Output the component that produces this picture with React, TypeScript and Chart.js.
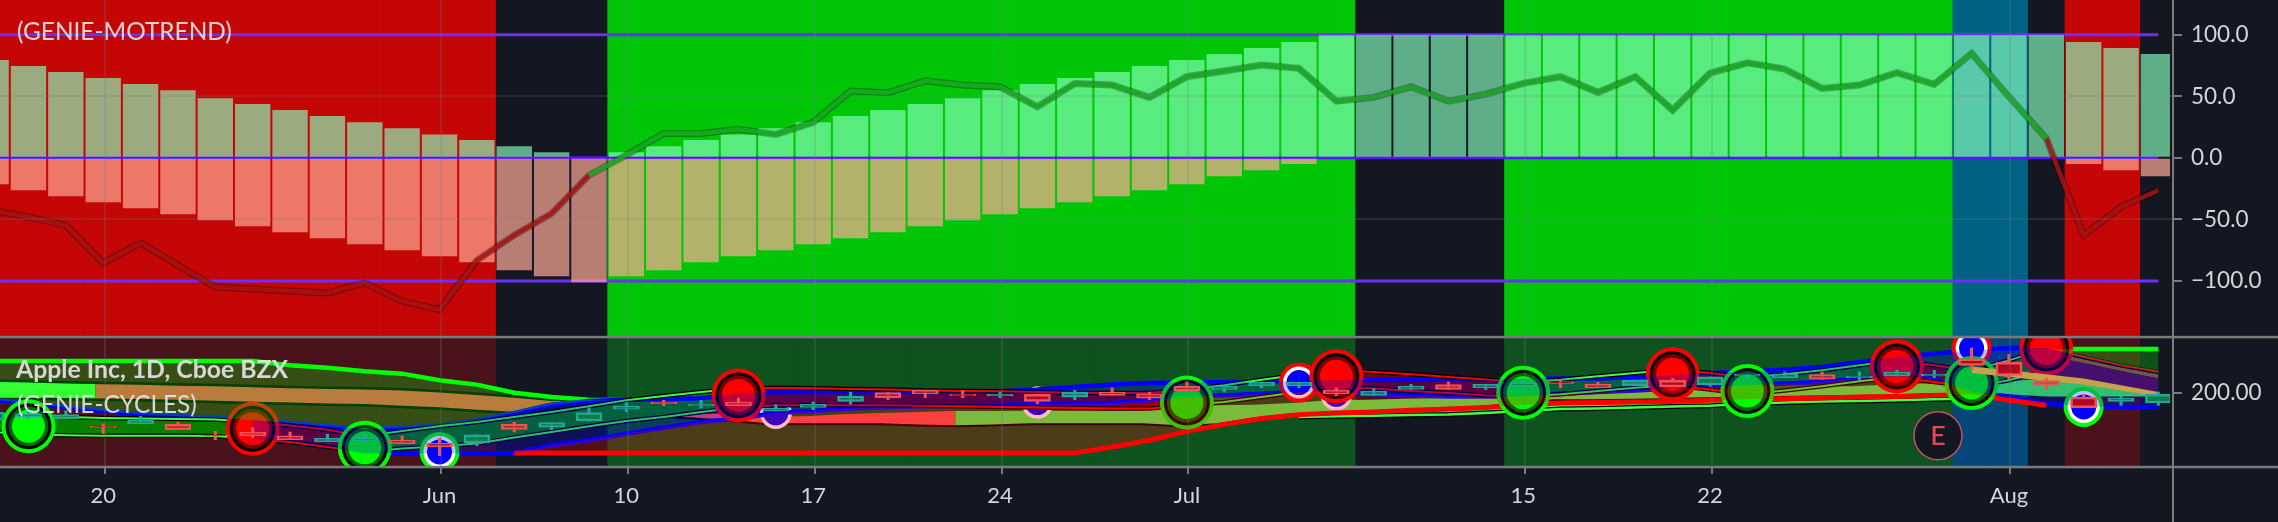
import React, { useEffect, useRef } from "react";
import { Chart, registerables } from "chart.js";

Chart.register(...registerables);

const FONT = "Lato, 'Open Sans', sans-serif";
const N = null;

// ---- session index 0 = 15 May ... 58 = 7 Aug
const tickIndex = [3, 12, 17, 22, 27, 32, 41, 46, 54];
const tickLabels = ["20", "Jun", "10", "17", "24", "Jul", "15", "22", "Aug"];

// R red, K none, G green, B blue
const bandState = [
  "R","R","R","R","R","R","R","R","R","R",
  "R","R","R","R","K","K","K","G","G","G",
  "G","G","G","G","G","G","G","G","G","G",
  "G","G","G","G","G","G","G","K","K","K",
  "K","G","G","G","G","G","G","G","G","G",
  "G","G","G","B","B","K","R","R","K",
];

// ---- top pane
const upperBars = [
  79.4,74.6,69.7,64.8,59.9,55,48.5,43.7,38.8,33.9,
  29,24,19,14.4,9.5,4.6,0,4.6,9.5,14.4,
  19,24,29,33.9,38.8,43.7,48.5,55,59.9,64.8,
  69.7,74.6,79.4,84.3,89.2,94,99.6,99.6,99.6,99.6,
  99.6,99.6,99.6,99.6,99.6,99.6,99.6,99.6,99.6,99.6,
  99.6,99.6,99.6,99.6,99.6,99.6,94,89.2,84.3,
];
const lowerBars = [
  -21.4,-26.3,-31.1,-36,-40.9,-45.8,-50.7,-55.5,-60.4,-65.3,
  -70.2,-75,-79.9,-84.8,-91.3,-96.2,-101,-96.2,-91.3,-84.8,
  -79.9,-75,-70.2,-65.3,-60.4,-55.5,-50.7,-45.8,-40.9,-36,
  -31.1,-26.3,-21.4,-14.9,-10,-5,0,0,0,0,
  0,0,0,0,0,0,0,0,0,0,
  0,0,0,0,0,0,-5,-10,-14.9,
];
const momentum = [
  -42.5,-48,-54.7,-85.3,-69.1,-87.2,-104.9,-106.5,-108.1,-109.8,
  -101.6,-116.5,-123.3,-83.2,-62.8,-45.2,-14.1,2.2,19.8,19.8,
  23.3,19,28.8,54.2,52.8,62.6,59.1,57.7,41.5,60.3,
  59.1,49.1,65.9,70.5,75.4,72.7,46.1,49.1,57.7,46.1,
  51.8,60.5,65.9,53.2,65.9,38.8,68.8,77.2,72.1,56.4,
  59.1,69.1,59.7,84.9,49.6,15.8,-62.8,-39.8,-26.3,
];
const levelHigh = upperBars.map(() => 100);
const levelZero = upperBars.map(() => 0);
const levelLow = upperBars.map(() => -100);

// ---- bottom pane: price candles
const open = [
  186.7,188.3,187.5,183.8,185.0,184.7,179.7,181.0,179.1,176.3,
  177.0,177.0,175.7,175.7,184.7,183.4,186.3,192.0,195.3,193.7,
  195.5,191.2,192.9,195.8,200.0,201.1,199.2,198.6,199.2,197.8,
  200.3,199.5,203.1,201.6,203.4,203.4,201.1,198.7,201.6,203.9,
  202.4,203.2,205.2,204.0,203.4,206.0,203.7,208.4,207.3,208.7,
  207.3,208.1,208.1,216.4,214.7,205.8,197.9,195.8,195.0,
];
const close = [
  190.7,189.6,189.4,183.3,186.7,182.1,179.2,179.1,177.3,178.0,
  178.0,175.4,173.8,179.7,182.3,185.5,190.4,193.4,194.7,194.2,
  193.7,192.6,194.4,198.2,197.6,199.5,198.7,199.2,195.8,200.2,
  198.7,197.4,200.8,203.1,205.0,205.0,199.5,200.8,203.1,201.6,
  204.0,204.8,204.5,202.4,206.0,202.8,207.6,208.9,208.9,206.5,
  207.9,210.0,208.9,213.2,208.4,203.6,192.8,197.4,199.2,
];
const high = [
  192.3,190.7,191.2,185.0,188.6,185.8,181.3,183.1,181.0,179.9,
  180.2,179.1,178.0,179.7,185.8,185.5,192.6,195.2,196.3,196.3,
  197.4,194.2,195.5,200.3,200.0,201.1,201.1,200.3,199.2,201.1,
  202.3,200.3,205.2,203.1,205.0,205.0,202.3,201.9,204.0,205.2,
  204.0,206.0,206.0,205.0,206.0,206.9,207.6,208.9,210.0,210.0,
  210.0,210.8,210.8,221.6,218.5,206.9,199.2,198.2,200.3,
];
const low = [
  186.3,187.5,187.5,180.2,185.0,182.1,177.3,178.3,177.3,176.3,
  176.3,175.4,169.6,174.4,181.0,182.1,186.3,190.8,193.7,192.6,
  193.7,191.2,191.8,194.5,196.6,197.6,197.6,197.6,194.7,196.6,
  198.7,196.6,200.8,200.3,202.4,202.4,198.6,198.7,201.6,201.6,
  201.5,203.2,202.4,202.4,203.4,202.8,203.1,206.3,207.3,206.5,
  206.0,208.1,207.3,211.1,206.3,201.5,192.8,193.9,193.9,
];

// ---- bottom pane: overlay lines
const limeTop = [
  215.3,215.3,215.3,215.3,215.3,215.3,215.3,215.3,213.2,212.1,
  210.3,209.2,206,203.9,200,197.9,196.6,196.5,N,N,
  N,N,N,N,N,N,N,N,N,N,
  N,N,N,N,N,N,N,N,N,N,
  N,N,N,N,N,N,N,N,N,N,
  N,N,N,N,N,221.1,221.1,221.1,221.1,
];
const ribbonUpper = [
  205.8,205.5,205,204.7,204.4,204,203.7,203.2,202.8,202.4,
  202.1,201.6,200.7,199.5,198.2,196.6,196.3,
];
const ribbonLower = [
  197,197,196.8,196.6,196.3,196,195.5,195,194.7,194.2,
  193.9,193.1,192.4,191.2,190.2,194.7,196.3,
];
const ribbonLimeLength = 4;
const blueUpper = [
  196.6,195,192.8,191.2,189.6,188.6,187.9,186.7,185.4,183.8,
  182.5,183.1,184.2,186.7,190.2,194.1,196,196.6,197,197.3,
  199.5,200.3,200.3,200.3,200.3,200.3,200.3,200.7,201.5,202.8,
  203.9,204.7,205,205,205.3,205.6,206.3,206.3,206.3,206.3,
  206.3,206.8,206.8,206.9,207.6,208.4,209.5,210.2,211.1,212.4,
  214.8,217.2,218.8,220.5,221.6,221.6,217.2,213.2,210,
];
const blueUpperLast = 55;
const blueLower = [
  N,N,N,N,N,N,N,177.8,176.2,173.8,
  170.6,170.6,170.6,170.6,170.9,174.6,177,180.2,183.1,185.8,
  187.5,190.2,191.2,192.3,193.1,193.4,193.7,194.1,194.4,194.7,
  195,196.3,197.9,198.7,199.5,200.3,200.3,199.2,198.6,198.2,
  198.2,198.2,199.5,200.3,201.1,202,202.8,203.6,204.4,205.2,
  206.8,207.6,206.8,200.3,198.2,194.7,193.4,193.1,193.1,
];
const channelUpper = [
  190.2,189,188.3,187.8,187.5,187.3,187,185.8,184.2,182.1,
  178.9,181.5,183.8,185.8,188.3,190.7,193.4,196.3,198.4,200.3,
  201.9,202.4,202.1,201.8,201.5,201.1,200.8,200.7,200.3,200,
  199.9,199.9,201.5,203.6,206.3,208.7,210.8,210,208.9,207.6,
  206.4,205.2,206.3,207.9,209.5,211.1,209.5,207.3,208.9,210.8,
  213.2,215.6,213.2,210.8,215.6,221.3,217.2,213.2,210,
];
const channelLower = [
  181,179.9,179.4,179.2,179.2,179.2,179.1,177.8,176.2,173.8,
  171.4,173,174.1,175.4,178.3,181,183.8,186.3,188.3,190.7,
  192.8,193.9,193.9,193.9,193.9,193.7,193.4,193.1,192.9,192.6,
  192.3,192.3,193.9,195.5,197.9,200.3,202.8,202,200.8,199.9,
  198.7,198.2,199.2,200.8,202.4,203.6,201.5,199.2,201.1,203.1,
  205.5,207.6,205.2,202.8,206,210.8,N,N,N,
];
// T teal, M maroon: state of the span that starts at this session
const channelState = [
  "T","T","T","T","T","T","T","M","M","M",
  "T","T","T","T","T","T","T","T","T","T",
  "M","M","M","M","M","M","M","M","M","M",
  "M","M","T","T","T","T","M","M","M","M",
  "M","T","T","T","T","M","M","T","T","T",
  "T","M","M","T","T","M","M","M","M",
];
const redFloor = [
  N,N,N,N,N,N,N,N,N,N,
  N,N,N,N,170.9,170.9,170.9,170.9,170.9,170.9,
  170.9,170.9,170.9,170.9,170.9,170.9,170.9,170.9,170.9,170.9,
  173.8,177,181.3,184.7,187.5,189.4,190.2,190.7,191.5,192.1,
  192.8,194.2,195,195.3,195.5,195.8,196.3,196.8,197.1,197.4,
  197.9,198.2,198.7,199.2,196.3,193.9,N,N,N,
];
const limeFloor = [
  N,N,N,N,N,N,N,N,N,N,
  N,N,N,N,N,N,N,N,N,N,
  N,N,N,N,N,N,N,N,N,N,
  N,N,N,N,N,188.3,188.6,188.9,189.2,189.5,
  190.2,191.2,192.1,192.4,192.8,193.3,193.7,194.7,195.3,195.7,
  196,196.3,196.8,197.1,N,N,N,N,N,
];
const midUpper = [
  N,N,N,N,N,N,N,N,N,N,
  N,N,N,N,N,N,N,N,188.3,189.4,
  190.2,188.6,188.6,189.6,190.2,190.7,191.2,191.2,191.3,191.3,
  191.3,191.5,193.4,193.9,194.2,195,196.3,196.6,197.1,197.4,
  197.9,197.9,198.2,199.2,200.3,201.1,201.5,202.8,203.6,203.1,
  203.1,204,204.4,203.6,N,N,N,N,N,
];
const midLower = [
  N,N,N,N,N,N,N,N,N,N,
  N,N,N,N,N,N,N,N,188.3,187.5,
  186.3,184.7,184.7,184.7,184.7,184.1,183.8,184.2,184.7,184.7,
  184.7,184.7,183.8,184.7,187.5,189.6,190.2,190.7,191.2,191.8,
  193.1,194.7,196.3,196.3,196.6,196.8,197.3,197.6,197.9,198.2,
  198.4,198.7,199.2,199.5,N,N,N,N,N,
];
const midRedLast = 26;
const tailStart = 53;
const tealUpper = [205.2,205.5,206.8,206,202.8,199.5];
const tealLower = [200.3,199.2,198.2,198.2,198.2,198.2];
const tanUpper = [212.7,210.8,208.9,206.8,203.6,200.3];
const tanLower = [209.5,207.6,205.6,203.9,201.1,198.2];
const fanMiddle = [N,N,218,214.3,210.5,206.8];

// ---- signal markers
const bigGreen = [{x:1,y:183.8},{x:10,y:173.4},{x:32,y:195.2},{x:41,y:200},{x:47,y:200.8},{x:53,y:204.7}];
const bigRed = [{x:7,y:182.6},{x:20,y:198.7},{x:36,y:207.9},{x:45,y:208.9},{x:51,y:212.7},{x:55,y:221.3}];
const crossUp = [{x:12,y:171.4},{x:56,y:193.1}];
const crossDown = [{x:35,y:204.9},{x:53,y:221.6}];
const crossFlat = [{x:21,y:190.2},{x:28,y:195.2},{x:36,y:199.2}];
const earnings = [{x:52.1,y:179.2}];

const C = {
  bg: "#131722", frame: "#7a7a7a", text: "#d4d6dc",
  teal: "#26a69a", red: "#ef5350",
};
const bandTop: any = { R: "#c40606", G: "#00c608", B: "#006384", K: "rgba(0,0,0,0)" };
const bandBottom: any = { R: "#4a131b", G: "#0e521f", B: "#05477a", K: "rgba(0,0,0,0)" };

const pts = (arr: any[], shift = 0, start = 0) =>
  arr.map((v, i) => ({ x: i + start + shift, y: v }));
const cutNull = (arr: any[], from: number, to: number) =>
  arr.map((v, i) => (i >= from && i <= to ? v : N));

function buildDatasets() {
  const ds: any[] = [];
  const add = (d: any) => {
    ds.push(d);
    return ds.length - 1;
  };
  const noClip = { left: 0, right: -3, top: 0, bottom: 0 };
  const line = (data: any[], yAxisID: string, o: any = {}) => ({
    type: "line", data, yAxisID, xAxisID: "x", pointRadius: 0, tension: 0,
    borderWidth: 0, fill: false, clip: noClip, spanGaps: false, ...o,
  });
  const between = (up: any[], lo: any[], color: any, o: any = {}) => {
    const target = add(line(lo, "y2"));
    add(line(up, "y2", { fill: { target, above: color, below: color }, backgroundColor: color, ...o }));
  };
  const rings = (data: any[], list: any[][]) =>
    list.forEach(([r, color]) =>
      add({
        type: "line", data, yAxisID: "y2", xAxisID: "x", showLine: false, clip: noClip,
        pointRadius: r, pointHoverRadius: r, pointBackgroundColor: color, pointBorderWidth: 0,
      }),
    );
  const bars = (data: any[], yAxisID: string, o: any = {}) => ({
    type: "bar", data, yAxisID, xAxisID: "x", grouped: false, clip: noClip,
    categoryPercentage: 1, barPercentage: 1, borderWidth: 0, ...o,
  });

  // background bands
  add(bars(bandState.map((_, i) => ({ x: i, y: [-146, 129] })), "y", { backgroundColor: bandState.map((s) => bandTop[s]), clip: { left: 0, right: 0, top: 0, bottom: 0 } }));
  add(bars(bandState.map((_, i) => ({ x: i, y: [164, 227] })), "y2", { backgroundColor: bandState.map((s) => bandBottom[s]), clip: { left: 0, right: 0, top: 0, bottom: 0 } }));

  // top pane
  const level = "#6c2ff5";
  add(line(pts(levelHigh), "y", { borderWidth: 3, borderColor: level }));
  add(line(pts(levelLow), "y", { borderWidth: 3, borderColor: level }));
  add(line(pts(levelZero), "y", { borderWidth: 3, borderColor: "#5a12ff" }));
  add(bars(pts(upperBars), "y", { barPercentage: 0.947, backgroundColor: "rgba(134,255,190,0.66)" }));
  add(bars(pts(lowerBars), "y", { barPercentage: 0.947, backgroundColor: "rgba(255,170,150,0.7)" }));
  add(line(pts(momentum), "y", { borderWidth: 7, borderColor: "rgba(0,0,0,0.3)" }));
  add(line(pts(momentum), "y", {
    borderWidth: 4.5, borderColor: "rgba(25,170,35,0.9)",
    segment: {
      borderColor: (c: any) =>
        c.p0DataIndex >= 16 && c.p0DataIndex < 55 ? "rgba(25,170,35,0.9)" : "rgba(170,20,20,0.85)",
    },
  }));

  // ribbons (tinted later by the translucent overlays)
  between(
    pts(ribbonUpper.slice(0, ribbonLimeLength), -0.2),
    pts(ribbonLower.slice(0, ribbonLimeLength), -0.2),
    "#44ff44",
  );
  between(
    pts(ribbonUpper.slice(ribbonLimeLength - 1), -0.2, ribbonLimeLength - 1),
    pts(ribbonLower.slice(ribbonLimeLength - 1), -0.2, ribbonLimeLength - 1),
    "#f75050",
  );
  between(pts(cutNull(midUpper, 0, midRedLast), -0.2), pts(cutNull(midLower, 0, midRedLast), -0.2), "#ff5555");
  between(pts(cutNull(midUpper, midRedLast, 58), -0.2), pts(cutNull(midLower, midRedLast, 58), -0.2), "#50f94f");
  between(pts(redFloor), pts(limeFloor), "#3fff3f");
  add(line(pts(midLower, -0.2), "y2", { borderWidth: 2, borderColor: "#000000" }));

  // tail of the chart
  between(pts(channelUpper.slice(tailStart), 0, tailStart), pts(fanMiddle, 0, tailStart), "#8f7800");
  between(pts(fanMiddle, 0, tailStart), pts(tanUpper, 0, tailStart), "#5d143e");
  between(pts(tealUpper, 0, tailStart), pts(tealLower, 0, tailStart), "#44ff44");

  // plain cross markers sit above the ribbons and under the channel
  rings(crossFlat, [[16, "#ffffff"], [12.5, "#0000ff"]]);

  // channel
  const channelColor = (c: any) => (channelState[c.p0DataIndex] === "T" ? "#078000" : "#780008");
  between(pts(channelUpper), pts(channelLower), "#078000", {
    segment: { backgroundColor: channelColor },
  });

  // lines
  add(line(pts(ribbonUpper), "y2", { borderWidth: 2.5, borderColor: "#000000" }));
  add(line(pts(ribbonLower), "y2", { borderWidth: 2.5, borderColor: "#000000" }));
  add(line(pts(limeTop), "y2", { borderWidth: 4.5, borderColor: "#00ff00" }));
  add(line(pts(limeFloor), "y2", { borderWidth: 5, borderColor: "#000000" }));
  add(line(pts(limeFloor), "y2", { borderWidth: 2.5, borderColor: "#40ff40" }));
  add(line(pts(cutNull(blueUpper, 0, blueUpperLast)), "y2", { borderWidth: 4.5, borderColor: "#0000ff" }));
  add(line(pts(blueLower), "y2", { borderWidth: 4.5, borderColor: "#0000ff" }));
  add(line(pts(redFloor), "y2", { borderWidth: 5, borderColor: "#ff0000" }));
  const edge = (c: any) => (channelState[c.p0DataIndex] === "T" ? "#3cff40" : "#ff0000");
  add(line(pts(channelUpper), "y2", { borderWidth: 4.5, borderColor: "#000000" }));
  add(line(pts(channelLower), "y2", { borderWidth: 4.5, borderColor: "#000000" }));
  add(line(pts(channelUpper), "y2", { borderWidth: 2, borderColor: "#3cff40", segment: { borderColor: edge } }));
  add(line(pts(channelLower), "y2", { borderWidth: 2, borderColor: "#3cff40", segment: { borderColor: edge } }));

  // signal markers
  rings(crossUp, [[20, "#00ff00"], [16, "#ffffff"], [12.5, "#0000ff"]]);
  rings(crossDown, [[20, "#ff0000"], [16, "#ffffff"], [12.5, "#0000ff"]]);
  rings(bigGreen, [[27, "#00ff00"], [23, "#000000"], [20, "#006400"], [16.5, "#00ff00"]]);
  rings(bigRed, [[27, "#ff0000"], [23, "#000000"], [20, "#7a0000"], [16.5, "#ff0000"]]);

  // translucent overlays above the markers
  between(pts(limeTop), pts(blueUpper), "rgba(0,255,0,0.25)");
  between(pts(blueLower), pts(redFloor), "rgba(255,0,0,0.25)");
  between(pts(blueUpper), pts(blueLower), "rgba(0,0,255,0.25)");
  between(pts(tanUpper, 0, tailStart), pts(tanLower, 0, tailStart), "#c9a14a");

  // candles
  const isUp = close.map((c, i) => c >= open[i]);
  add(bars(high.map((h, i) => ({ x: i, y: [low[i], h] })), "y2", {
    barThickness: 2.5, backgroundColor: isUp.map((u) => (u ? C.teal : C.red)),
  }));
  add(bars(open.map((o, i) => ({ x: i, y: [o, close[i]] })), "y2", {
    barThickness: 26, borderWidth: 2.5, borderSkipped: false,
    borderColor: isUp.map((u) => (u ? C.teal : C.red)),
    backgroundColor: isUp.map((u) => (u ? "#0b8044" : "#b0081f")),
  }));

  // earnings badge
  add({
    type: "line", label: "earnings", data: earnings, yAxisID: "y2", xAxisID: "x", showLine: false,
    clip: noClip, pointRadius: 24, pointHoverRadius: 24, pointBackgroundColor: C.bg,
    pointBorderColor: "#c8505e", pointBorderWidth: 1.5,
  });

  ds.forEach((d, i) => (d.order = ds.length - i));
  return ds;
}

const panePlugin = {
  id: "panes",
  afterDraw(chart: any) {
    const { ctx, chartArea } = chart;
    const top = chart.scales.y;
    ctx.save();
    // earnings letter
    const idx = chart.data.datasets.findIndex((d: any) => d.label === "earnings");
    const p = chart.getDatasetMeta(idx).data[0];
    ctx.font = `500 27px ${FONT}`;
    ctx.fillStyle = "#e5485a";
    ctx.textAlign = "center";
    ctx.textBaseline = "middle";
    ctx.fillText("E", p.x, p.y + 1);

    // frame
    ctx.fillStyle = C.frame;
    ctx.fillRect(0, top.bottom - 1.2, chart.width, 2.5);
    ctx.fillRect(0, chartArea.bottom - 1.2, chart.width, 2.5);
    ctx.fillRect(chartArea.right - 1, 0, 2, chart.height);

    // titles
    ctx.textAlign = "left";
    ctx.textBaseline = "middle";
    ctx.fillStyle = "rgba(232,232,236,0.9)";
    ctx.font = `400 24.4px ${FONT}`;
    ctx.fillText("(GENIE-MOTREND)", 17, 32);
    ctx.fillText("(GENIE-CYCLES)", 17, 405);
    ctx.font = `700 24.8px ${FONT}`;
    ctx.fillText("Apple Inc, 1D, Cboe BZX", 16, 370);
    ctx.restore();
  },
};

const fmtTop = (v: number) => (v < 0 ? "\u2212" + Math.abs(v).toFixed(1) : v.toFixed(1));
const noPad = (s: any) => {
  s.paddingLeft = s.paddingRight = s.paddingTop = s.paddingBottom = 0;
};

export default function App() {
  const ref = useRef<HTMLCanvasElement>(null);
  useEffect(() => {
    document.body.style.margin = "0";
    document.body.style.background = C.bg;
    const chart = new Chart(ref.current as any, {
      data: { datasets: buildDatasets() } as any,
      plugins: [panePlugin],
      options: {
        animation: false,
        responsive: false,
        devicePixelRatio: 1,
        layout: { padding: 0, autoPadding: false },
        interaction: { mode: undefined as any },
        plugins: { legend: { display: false }, tooltip: { enabled: false } },
        scales: {
          x: {
            type: "linear",
            bounds: "data",
            offset: false,
            min: 0.238,
            max: 58.39,
            position: "bottom",
            afterFit: (s: any) => { s.height = 55; noPad(s); },
            afterBuildTicks: (s: any) => { s.ticks = tickIndex.map((v) => ({ value: v + 0.04 })); },
            grid: { offset: false, color: "rgba(120,123,134,0.22)", lineWidth: 2, tickColor: C.frame, tickLength: 7, z: 1 },
            border: { display: false },
            ticks: {
              autoSkip: false, maxRotation: 0, padding: 9, labelOffset: -1.5,
              color: C.text, font: { family: FONT, size: 22 },
              callback: (v: any) => tickLabels[tickIndex.indexOf(Math.round(v))] ?? "",
            },
          },
          y: {
            type: "linear",
            bounds: "data",
            position: "right",
            stack: "panes",
            stackWeight: 337,
            min: -145.5,
            max: 128.2,
            afterFit: (s: any) => { s.width = 105; noPad(s); },
            afterBuildTicks: (s: any) => { s.ticks = [100, 50, 0, -50, -100].map((value) => ({ value })); },
            grid: {
              color: (c: any) => (Math.abs(c.tick?.value) === 50 ? "rgba(120,123,134,0.2)" : "rgba(0,0,0,0)"),
              tickColor: C.frame, lineWidth: 2, tickLength: 9, z: 1,
            },
            border: { display: false },
            ticks: { padding: 9, color: C.text, font: { family: FONT, size: 22.5 }, callback: (v: any) => fmtTop(v) },
          },
          y2: {
            type: "linear",
            bounds: "data",
            position: "right",
            stack: "panes",
            stackWeight: 130,
            min: 164.1,
            max: 226.9,
            afterFit: (s: any) => { s.width = 105; noPad(s); },
            afterBuildTicks: (s: any) => { s.ticks = [{ value: 200 }]; },
            grid: { drawOnChartArea: false, tickColor: C.frame, lineWidth: 2, tickLength: 9 },
            border: { display: false },
            ticks: { padding: 9, color: C.text, font: { family: FONT, size: 22.5 }, callback: (v: any) => Number(v).toFixed(2) },
          },
        },
      } as any,
    });
    return () => chart.destroy();
  }, []);
  return (
    <div style={{ position: "fixed", left: 0, top: 0, width: 2278, height: 522, overflow: "hidden", background: C.bg }}>
      <canvas ref={ref} width={2278} height={522} style={{ display: "block", width: 2278, height: 522 }} />
    </div>
  );
}
